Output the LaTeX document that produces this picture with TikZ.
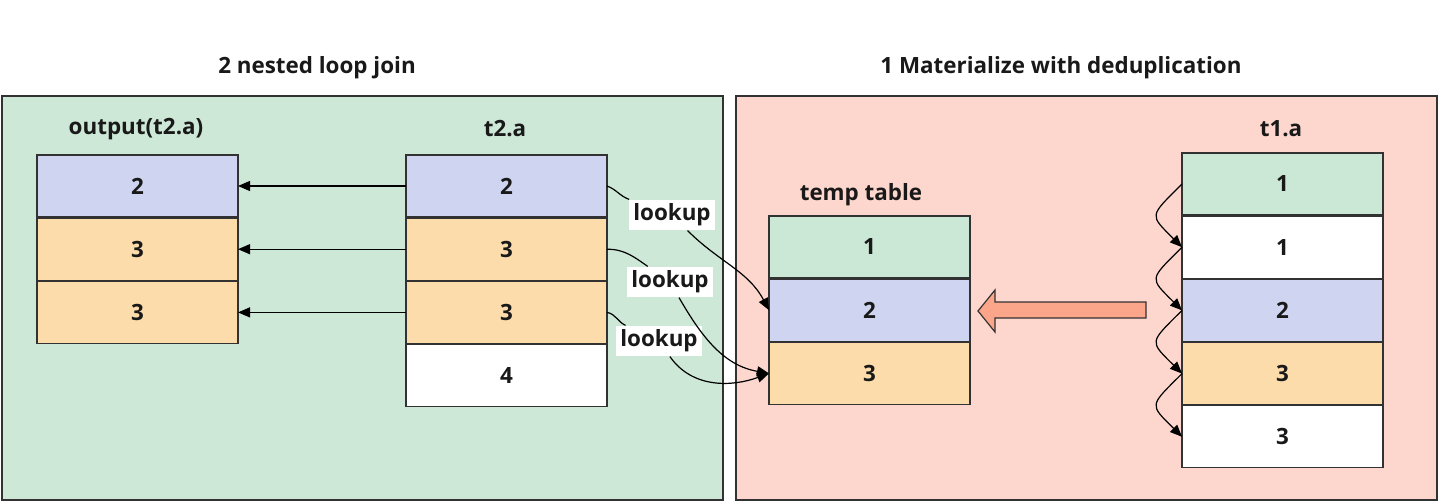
\documentclass[tikz,border=0pt]{standalone}
\usepackage{fontspec}
\setmainfont{Open Sans}
\usetikzlibrary{
  matrix,
  positioning,
  arrows.meta
}
\definecolor{panelgreen}{RGB}{205,232,215}
\definecolor{panelpink}{RGB}{253,214,206}
\definecolor{rowgreen}{RGB}{203,231,213}
\definecolor{rowblue}{RGB}{207,213,240}
\definecolor{roworange}{RGB}{253,220,171}
\definecolor{salmon}{RGB}{251,166,138}
\definecolor{edge}{RGB}{50,50,50}

\begin{document}
\begin{tikzpicture}[
  x=0.5pt,
  y=-0.5pt,
  font=\fontsize{11.2}{13}\selectfont\bfseries,
  text=black!90,
  panel/.style={
    draw=edge,
    line width=0.6pt
  },
  tbl/.style={
    matrix of nodes,
    anchor=north west,
    inner sep=0pt,
    row sep=0pt,
    nodes={
      draw=edge,
      line width=0.6pt,
      minimum width=100.5pt,
      minimum height=31pt,
      inner sep=0pt,
      outer sep=0pt,
      fill=white
    }
  },
  greenrow/.style={fill=rowgreen},
  bluerow/.style={fill=rowblue},
  orangerow/.style={fill=roworange},
  lookup/.style={
    fill=white,
    inner sep=2pt
  },
  link/.style={
    line width=0.6pt
  },
  >={Triangle[length=6pt,width=5pt]}
]
\useasboundingbox (0,0) rectangle (1440,503);

% Panels
\draw[panel,fill=panelgreen] (2,96) rectangle (723,500);
\draw[panel,fill=panelpink] (736,96) rectangle (1437,500);

\node (jointitle) at (317,68) {2 nested loop join};
\node (mattitle) at (1061,68) {1 Materialize with deduplication};

% Tables
\matrix[tbl] (out) at (36,154) {
  |[bluerow]| 2 \\
  |[orangerow]| 3 \\
  |[orangerow]| 3 \\
};
\node (outname) at (136,129) {output(t2.a)};

\matrix[tbl] (t2a) at (405,154) {
  |[bluerow]| 2 \\
  |[orangerow]| 3 \\
  |[orangerow]| 3 \\
  4 \\
};
\node (t2aname) at (505,129) {t2.a};

\matrix[tbl] (tmp) at (768,215) {
  |[greenrow]| 1 \\
  |[bluerow]| 2 \\
  |[orangerow]| 3 \\
};
\node (tmpname) at (861,195) {temp table};

\matrix[tbl] (t1a) at (1181,152) {
  |[greenrow]| 1 \\
  1 \\
  |[bluerow]| 2 \\
  |[orangerow]| 3 \\
  3 \\
};
\node (t1aname) at (1281,129) {t1.a};

% Output arrows
\foreach \r in {1,2,3}
  \draw[link,->] (t2a-\r-1) -- (out-\r-1);

% Lookups
\node[lookup] (lk1) at (672,215) {lookup};
\node[lookup] (lk2) at (670,282) {lookup};
\node[lookup] (lk3) at (659,341) {lookup};

\draw[link] (t2a-1-1.east) to[out=-20,in=160] (lk1);
\draw[link,->] (lk1) to[out=-45,in=118] (tmp-2-1.west);
\draw[link] (t2a-2-1.east) to[out=0,in=145] (lk2);
\draw[link,->] (lk2) to[out=-60,in=170] (tmp-3-1.west);
\draw[link] (t2a-3-1.east) to[out=-10,in=155] (lk3);
\draw[link,->] (lk3) to[out=-55,in=200] (tmp-3-1.west);

% Deduplication
\draw[panel,fill=salmon]
  (978,311) -- (995,290) -- (995,302) -- (1146,302) --
  (1146,318) -- (995,318) -- (995,332) -- cycle;

\foreach \a/\b in {1/2,2/3,3/4,4/5}
  \draw[link,->] (t1a-\a-1.west) to[out=225,in=135,looseness=1.9] (t1a-\b-1.west);

\end{tikzpicture}
\end{document}
